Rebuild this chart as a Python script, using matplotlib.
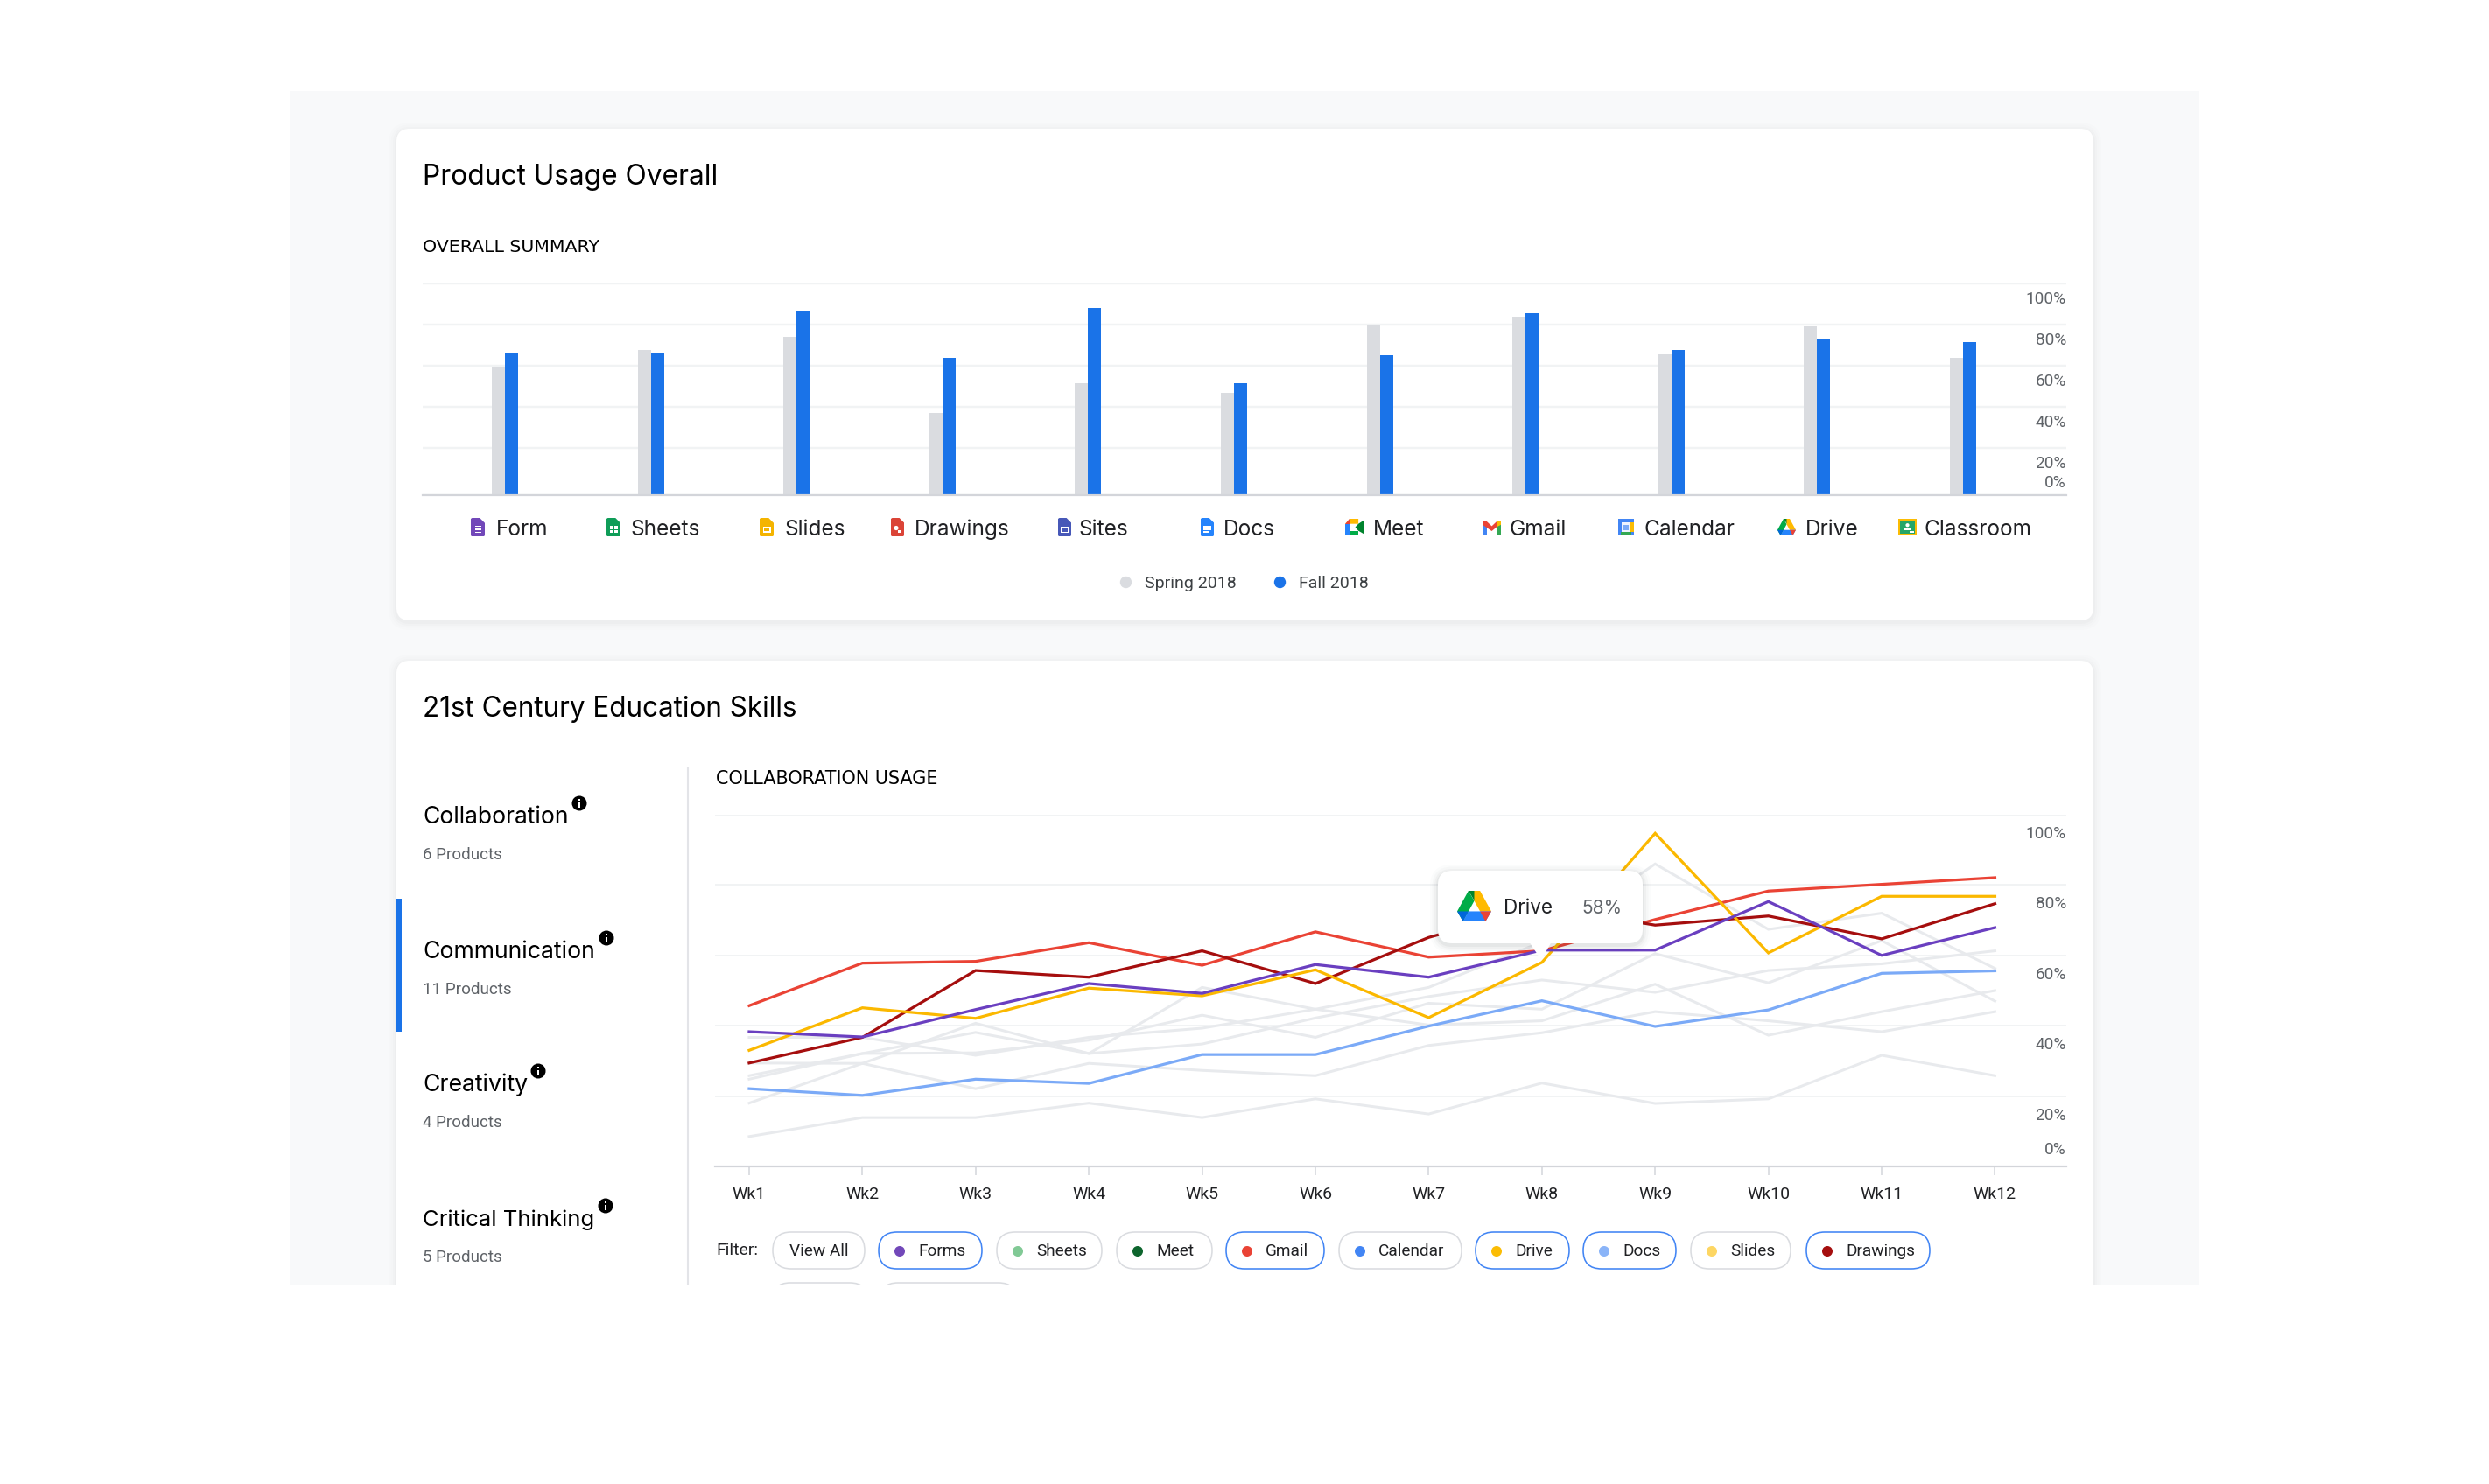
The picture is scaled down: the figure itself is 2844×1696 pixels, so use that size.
import numpy as np
import matplotlib
matplotlib.use("Agg")
import matplotlib.pyplot as plt
from matplotlib.patches import FancyBboxPatch, Polygon, Circle, Rectangle
from matplotlib.lines import Line2D
from matplotlib.transforms import ScaledTranslation

W, H = 2844, 1696
PT = 0.72

# ---------- data ----------
products = ["Form", "Sheets", "Slides", "Drawings", "Sites", "Docs", "Meet", "Gmail", "Calendar", "Drive", "Classroom"]
spring_2018 = [59.1, 67.7, 74.0, 37.0, 51.5, 46.8, 80.0, 83.8, 65.5, 79.1, 63.8]
fall_2018 = [66.4, 66.4, 86.4, 63.8, 88.1, 51.5, 65.1, 85.5, 67.7, 72.8, 71.5]
pct_ticks = [0, 20, 40, 60, 80, 100]
pct_labels = ["0%", "20%", "40%", "60%", "80%", "100%"]

weeks = ["Wk1", "Wk2", "Wk3", "Wk4", "Wk5", "Wk6", "Wk7", "Wk8", "Wk9", "Wk10", "Wk11", "Wk12"]
muted_a = [8.5, 13.9, 13.9, 18, 13.9, 19.2, 14.9, 23.7, 17.9, 19.2, 31.6, 25.8]
muted_b = [29.4, 29.3, 22.1, 29.3, 27.3, 25.8, 34.4, 38, 44, 41.4, 38.3, 44]
muted_c = [36.7, 36.7, 31.6, 36.7, 39.3, 44.7, 50.9, 63.8, 86, 67.4, 72, 56.3]
muted_d = [18, 29.3, 40.7, 32.1, 50.9, 44.7, 40.2, 41.4, 51.8, 37.3, 44, 50]
muted_e = [25.8, 32.1, 38.1, 32.1, 34.8, 42.2, 48.3, 53, 49.5, 55.7, 57.6, 61.3]
muted_f = [24.8, 32.1, 32.3, 35.9, 43, 36.7, 46.4, 44.7, 60.5, 52.2, 64.2, 47]
gmail = [45.7, 57.8, 58.3, 63.6, 57.2, 66.7, 59.5, 61.3, 70.2, 78.3, 80.2, 82.1]
drawings = [29.4, 36.7, 55.7, 53.8, 61.3, 52, 65.1, 74, 68.6, 71.2, 64.7, 74.7]
docs = [22.1, 20.2, 24.8, 23.6, 31.8, 31.8, 39.9, 47.1, 39.8, 44.5, 54.9, 55.6]
drive = [33, 45.1, 42.1, 50.7, 48.5, 55.9, 42.3, 58, 94.7, 60.7, 76.8, 76.8]
forms = [38.3, 36.8, 44.6, 52, 49.2, 57.4, 53.8, 61.5, 61.5, 75.3, 60, 67.9]

skills = ["Collaboration", "Communication", "Creativity", "Critical Thinking"]
skill_counts = ["6 Products", "11 Products", "4 Products", "5 Products"]
filters = ["View All", "Forms", "Sheets", "Meet", "Gmail", "Calendar", "Drive", "Docs", "Slides", "Drawings"]

# ---------- colours ----------
GRID = "#f1f3f4"
AXIS = "#d3d5da"
MUTED = "#e8eaed"
GREY_BAR = "#dadce0"
BLUE = "#1a73e8"
TXT2 = "#5f6368"
C_GMAIL, C_DRAW, C_DOCS, C_DRIVE, C_FORMS = "#ea4335", "#a50e0e", "#7baaf7", "#fbb800", "#6a3fc0"
SANS = "Roboto"
HEAD = "Inter"
BOTTOM = 1469

fig = plt.figure(figsize=(W / 100, H / 100), dpi=100, facecolor="white")


def px_axes(x0, y0, x1, y1, z):
    return fig.add_axes([x0 / W, 1 - y1 / H, (x1 - x0) / W, (y1 - y0) / H], zorder=z)


bg = px_axes(0, 0, W, H, 0)
fg = px_axes(0, 0, W, H, 5)
for a in (bg, fg):
    a.set_xlim(0, W)
    a.set_ylim(H, 0)
    a.axis("off")
    a.patch.set_alpha(0)


def rbox(a, x0, y0, x1, y1, r, fc="white", ec="none", lw=0, z=1, alpha=None):
    p = FancyBboxPatch((x0 + r, y0 + r), x1 - x0 - 2 * r, y1 - y0 - 2 * r,
                       boxstyle=f"round,pad={r},rounding_size={r}", fc=fc, ec=ec, lw=lw, zorder=z, alpha=alpha)
    a.add_patch(p)
    return p


def shadow(a, x0, y0, x1, y1, r, dy=2, z=1, k_scale=1.0, a_scale=1.0):
    for k, al in zip((9, 6.5, 4, 2), (0.006, 0.009, 0.014, 0.02)):
        k = k * k_scale
        rbox(a, x0 - k, y0 - k + dy, x1 + k, y1 + k + dy, r + k, fc="#3c4043", alpha=al * a_scale, z=z)


renderer = fig.canvas.get_renderer()


def T(x, y, s, px, a=fg, width=None, color="black", family=SANS, ha="left", weight="normal", z=10):
    t = a.text(x, y, s, fontsize=px * PT, color=color, family=family, ha=ha, va="center", weight=weight, zorder=z)
    if width is not None:
        w = t.get_window_extent(renderer).width
        t.set_fontsize(px * PT * width / w)
    return t


# ---------- page + cards ----------
bg.add_patch(Rectangle((331, 104), 2513 - 331, BOTTOM - 104, fc="#f8f9fa", ec="none", zorder=0))
shadow(bg, 453, 147, 2392, 709, 15)
rbox(bg, 453, 147, 2392, 709, 15)
shadow(bg, 453, 755, 2392, 1560, 15)
rbox(bg, 453, 755, 2392, 1560, 15)
bg.plot([786, 786], [878, 1560], color="#e3e4e8", lw=1.5, zorder=2)
bg.add_patch(Rectangle((453, 1027), 6, 152, fc=BLUE, ec="none", zorder=3))

T(483, 202, "Product Usage Overall", 34, width=337, family=HEAD)
T(483, 283, "OVERALL SUMMARY", 17, width=202, family="DejaVu Sans", weight="normal")
T(483, 811, "21st Century Education Skills", 34, width=428, family=HEAD)
T(818, 890, "COLLABORATION USAGE", 17, width=254, family="DejaVu Sans")

# ---------- chart 1 ----------
ax1 = px_axes(483, 324, 2361, 566, 2)
ax1.patch.set_alpha(0)
ax1.set_yscale("function", functions=(lambda v: np.interp(v, [0, 20, 100], [0, 54, 242]),
                                      lambda p: np.interp(p, [0, 54, 242], [0, 20, 100])))
idx = np.arange(len(products))
bw = 0.09
ax1.bar(idx - bw / 2, spring_2018, width=bw, color=GREY_BAR, zorder=3, label="Spring 2018")
ax1.bar(idx + bw / 2, fall_2018, width=bw, color=BLUE, zorder=3, label="Fall 2018")
ax1.set_xlim(-0.564, 10.708)
ax1.set_ylim(0, 100)


def style_y(ax, offsets, glw):
    ax.set_yticks(pct_ticks)
    ax.set_yticklabels(pct_labels)
    ax.yaxis.tick_right()
    ax.tick_params(axis="y", length=0, pad=0, labelcolor=TXT2, labelsize=19 * PT)
    for lab, off in zip(ax.get_yticklabels(), offsets):
        lab.set_ha("right")
        lab.set_va("center")
        lab.set_family(SANS)
        lab.set_transform(lab.get_transform() + ScaledTranslation(0, off * PT / 72, fig.dpi_scale_trans))
    ax.grid(axis="y", color=GRID, lw=glw, zorder=0)
    ax.set_axisbelow(True)
    for s in ("top", "left", "right"):
        ax.spines[s].set_visible(False)
    ax.spines["bottom"].set_color(AXIS)
    ax.spines["bottom"].set_linewidth(2.2 * PT)


style_y(ax1, [14, -18, -18, -18, -18, -18], 2.4 * PT)
ax1.set_xticks(idx)
ax1.tick_params(axis="x", length=0, labelbottom=False)
ax1.spines["bottom"].set_zorder(4)

leg = ax1.legend(handles=[Line2D([], [], ls="", marker="o", ms=12 * PT, color=GREY_BAR, label="Spring 2018"),
                          Line2D([], [], ls="", marker="o", ms=12 * PT, color=BLUE, label="Fall 2018")],
                 loc="center", bbox_to_anchor=(1420 / W, 1 - 667 / H), bbox_transform=fig.transFigure, ncol=2,
                 frameon=False, handlelength=1, handletextpad=0.62, columnspacing=2.03,
                 prop={"family": SANS, "size": 19.5 * PT})
for t in leg.get_texts():
    t.set_color("#3c4043")

# ---------- chart 2 ----------
ax2 = px_axes(817, 931, 2361, 1333, 2)
ax2.patch.set_alpha(0)
x = np.arange(len(weeks))
for series in (muted_a, muted_b, muted_c, muted_d, muted_e, muted_f):
    ax2.plot(x, series, color=MUTED, lw=3 * PT, zorder=2, solid_joinstyle="miter", clip_on=False)
for series, c, name in ((gmail, C_GMAIL, "Gmail"), (drawings, C_DRAW, "Drawings"), (docs, C_DOCS, "Docs"),
                        (drive, C_DRIVE, "Drive"), (forms, C_FORMS, "Forms")):
    ax2.plot(x, series, color=c, lw=3.2 * PT, zorder=3, label=name, solid_joinstyle="miter")
ax2.set_xlim(-0.301, 11.63)
ax2.set_ylim(0, 100)
style_y(ax2, [19, -22, -22, -22, -22, -22], 2 * PT)
ax2.set_xticks(x)
ax2.set_xticklabels(weeks, family=SANS, fontsize=19.5 * PT, color="#202124")
ax2.tick_params(axis="x", length=10 * PT, width=1.5 * PT, color=AXIS, pad=13 * PT)

# ---------- left rail ----------
skill_y = [934, 1088, 1240, 1394]
skill_w = [166, 197, 120, 196]
info_xy = [(662, 918), (693, 1072), (615, 1224), (692, 1378)]
count_y = [977, 1131, 1283, 1437]
count_w = [91, 102, 91, 91]
for s, yy, w, (ix, iy), c, cy, cw in zip(skills, skill_y, skill_w, info_xy, skill_counts, count_y, count_w):
    T(483, yy, s, 28, width=w, family=HEAD)
    T(483, cy, c, 18, width=cw, color=TXT2, family=SANS)
    fg.add_patch(Circle((ix, iy), 8.5, fc="black", ec="none", zorder=9))
    fg.add_patch(Rectangle((ix - 1.2, iy - 1.5), 2.4, 6, fc="white", ec="none", zorder=10))
    fg.add_patch(Rectangle((ix - 1.2, iy - 5), 2.4, 2.2, fc="white", ec="none", zorder=10))

# ---------- filter chips ----------
T(818, 1429, "Filter:", 17, width=48, color="#202124")
chip_x0 = [883, 1004, 1139, 1276, 1401, 1530, 1686, 1809, 1932, 2064]
chip_x1 = [988, 1122, 1259, 1385, 1513, 1670, 1793, 1915, 2046, 2205]
chip_col = [None, "#7248b9", "#81c995", "#0d652d", "#ea4335", "#4285f4", "#fbbc04", "#8ab4f8", "#fdd663", "#a50e0e"]
chip_sel = [False, True, False, False, True, False, True, True, False, True]
for name, a0, a1, col, sel in zip(filters, chip_x0, chip_x1, chip_col, chip_sel):
    rbox(fg, a0, 1408, a1, 1450, 21, fc="white", ec="#4285f4" if sel else "#dadce0", lw=1.6 * PT, z=6)
    if col is None:
        T((a0 + a1) / 2, 1430, name, 19, ha="center", color="#202124")
    else:
        fg.add_patch(Circle((a0 + 24, 1430), 6, fc=col, ec="none", zorder=7))
        T(a0 + 45, 1430, name, 19, color="#202124")
# second row of chips, cut by the page edge
rbox(fg, 882, 1466, 992, 1508, 21, fc="white", ec="#dadce0", lw=1.6 * PT, z=6)
rbox(fg, 1005, 1466, 1162, 1508, 21, fc="white", ec="#dadce0", lw=1.6 * PT, z=6)
fg.add_patch(Rectangle((0, BOTTOM), W, H - BOTTOM, fc="white", ec="none", zorder=20))


# ---------- icons ----------
def doc_icon(x0, y0, x1, y1, col, mark=None):
    w, h = x1 - x0, y1 - y0
    f = w * 0.36
    fg.add_patch(Polygon([(x0 + 1.5, y0), (x1 - f, y0), (x1, y0 + f), (x1, y1 - 1), (x1 - 1, y1), (x0 + 1, y1), (x0, y1 - 1),
                          (x0, y0 + 1)], closed=True, fc=col, ec="none", zorder=9))
    cx, cy = (x0 + x1) / 2, y0 + h * 0.62
    if mark == "lines":
        for d in (-3.5, 0, 3.5):
            fg.add_patch(Rectangle((cx - w * 0.2, cy + d - 0.8), w * 0.45, 1.6, fc="white", ec="none", zorder=10))
    elif mark == "grid":
        fg.add_patch(Rectangle((cx - 4.5, cy - 4), 9, 8, fc="white", ec="none", zorder=10))
        fg.add_patch(Rectangle((cx - 0.5, cy - 4), 1, 8, fc=col, ec="none", zorder=11))
        fg.add_patch(Rectangle((cx - 4.5, cy - 0.5), 9, 1, fc=col, ec="none", zorder=11))
    elif mark == "slide":
        fg.add_patch(Rectangle((cx - 4.5, cy - 3.5), 9, 7, fc="white", ec="none", zorder=10))
        fg.add_patch(Rectangle((cx - 3, cy - 2), 6, 4, fc=col, ec="none", zorder=11))
    elif mark == "draw":
        fg.add_patch(Circle((cx - 1.5, cy - 1.5), 2.6, fc="white", ec="none", zorder=10))
        fg.add_patch(Rectangle((cx, cy + 0.5), 3.6, 3.6, fc="white", ec="none", zorder=10))
    elif mark == "site":
        fg.add_patch(Rectangle((cx - 4.5, cy - 3.5), 9, 7.5, fc="white", ec="none", zorder=10))
        fg.add_patch(Rectangle((cx - 3, cy - 0.8), 6, 3.4, fc=col, ec="none", zorder=11))
    elif mark == "doc":
        for d, l in ((-3, 0.55), (0, 0.55), (3, 0.35)):
            fg.add_patch(Rectangle((cx - w * 0.28, cy + d - 0.8), w * l, 1.6, fc="white", ec="none", zorder=10))


def drive_icon(x0, y0, x1, y1):
    w, h = x1 - x0, y1 - y0
    P = lambda pts: [(x0 + a * w, y0 + b * h) for a, b in pts]
    shapes = [([(0.33, 0), (0.5, 0.33), (0.17, 1), (0, 0.67)], "#00ac47"),
              ([(0.33, 0), (0.5, 0), (0.5, 0.33)], "#00832d"),
              ([(0.5, 0), (0.67, 0), (1, 0.67), (0.67, 0.67), (0.5, 0.33)], "#ffba00"),
              ([(0.33, 0.67), (1, 0.67), (0.83, 1), (0.17, 1)], "#2684fc"),
              ([(0, 0.67), (0.33, 0.67), (0.17, 1)], "#0066da"),
              ([(0.67, 0.67), (1, 0.67), (0.83, 1)], "#ea4335")]
    for pts, c in shapes:
        fg.add_patch(Polygon(P(pts), closed=True, fc=c, ec="none", zorder=12))


def meet_icon(x0, y0, x1, y1):
    w, h = x1 - x0, y1 - y0
    fg.add_patch(Rectangle((x0, y0 + h * .3), w * .25, h * .45, fc="#2684fc", ec="none", zorder=9))
    fg.add_patch(Polygon([(x0, y0 + h * .3), (x0 + w * .25, y0), (x0 + w * .72, y0), (x0 + w * .72, y0 + h * .3)],
                         closed=True, fc="#ffba00", ec="none", zorder=9))
    fg.add_patch(Polygon([(x0 + w * .25, y0), (x0 + w * .25, y0 + h * .3), (x0, y0 + h * .3)], closed=True, fc="#ea4335",
                         ec="none", zorder=10))
    fg.add_patch(Rectangle((x0, y0 + h * .72), w * .72, h * .28, fc="#2684fc", ec="none", zorder=9))
    fg.add_patch(Rectangle((x0 + w * .3, y0 + h * .72), w * .42, h * .28, fc="#00ac47", ec="none", zorder=10))
    fg.add_patch(Rectangle((x0 + w * .25, y0 + h * .3), w * .47, h * .42, fc="white", ec="none", zorder=10))
    fg.add_patch(Polygon([(x0 + w * .55, y0 + h * .5), (x0 + w * .72, y0 + h * .3), (x1, y0 + h * .1), (x1, y0 + h * .9),
                          (x0 + w * .72, y0 + h * .72)], closed=True, fc="#00832d", ec="none", zorder=11))


def gmail_icon(x0, y0, x1, y1):
    w, h = x1 - x0, y1 - y0
    fg.add_patch(Rectangle((x0, y0 + h * .15), w * .22, h * .85, fc="#4285f4", ec="none", zorder=9))
    fg.add_patch(Rectangle((x1 - w * .22, y0 + h * .15), w * .22, h * .85, fc="#34a853", ec="none", zorder=9))
    fg.add_patch(Polygon([(x1 - w * .22, y0 + h * .05), (x1, y0), (x1, y0 + h * .3), (x1 - w * .22, y0 + h * .45)],
                         closed=True, fc="#fbbc04", ec="none", zorder=11))
    fg.add_patch(Polygon([(x0, y0), (x0 + w * .22, y0 + h * .05), (x0 + w * .5, y0 + h * .4), (x1 - w * .22, y0 + h * .05),
                          (x1 - w * .22, y0 + h * .45), (x0 + w * .5, y0 + h * .75), (x0, y0 + h * .3)],
                         closed=True, fc="#ea4335", ec="none", zorder=10))


def calendar_icon(x0, y0, x1, y1):
    w, h = x1 - x0, y1 - y0
    fg.add_patch(Rectangle((x0, y0), w, h, fc="#4285f4", ec="none", zorder=9))
    fg.add_patch(Rectangle((x0 + w * .15, y1 - h * .2), w * .7, h * .2, fc="#34a853", ec="none", zorder=10))
    fg.add_patch(Rectangle((x1 - w * .2, y0 + h * .2), w * .2, h * .6, fc="#fbbc04", ec="none", zorder=10))
    fg.add_patch(Rectangle((x0 + w * .2, y0 + h * .22), w * .6, h * .58, fc="#eef3fe", ec="none", zorder=11))
    fg.add_patch(Rectangle((x0 + w * .32, y0 + h * .36), w * .36, h * .3, fc="#7baaf7", ec="none", zorder=12))


def classroom_icon(x0, y0, x1, y1):
    w, h = x1 - x0, y1 - y0
    fg.add_patch(Rectangle((x0, y0), w, h, fc="#fbbc04", ec="none", zorder=9))
    fg.add_patch(Rectangle((x0 + w * .1, y0 + h * .1), w * .8, h * .8, fc="#25a667", ec="none", zorder=10))
    fg.add_patch(Circle((x0 + w * .5, y0 + h * .38), w * .1, fc="white", ec="none", zorder=11))
    fg.add_patch(Rectangle((x0 + w * .3, y0 + h * .55), w * .4, h * .13, fc="white", ec="none", zorder=11))
    fg.add_patch(Rectangle((x0 + w * .62, y0 + h * .76), w * .22, h * .06, fc="white", ec="none", zorder=11))


LABEL_Y = 605
label_x = [567, 721, 896, 1045, 1232, 1398, 1569, 1724, 1878, 2063, 2199]
for p, a0 in zip(products, label_x):
    T(a0, LABEL_Y, p, 24.4, family=HEAD, color="#202124")
doc_icon(538, 592, 554, 613, "#7248b9", "lines")
doc_icon(693, 592, 709, 613, "#0f9d58", "grid")
doc_icon(868, 592, 884, 613, "#f4b400", "slide")
doc_icon(1018, 592, 1033, 613, "#db4437", "draw")
doc_icon(1209, 592, 1224, 613, "#4758b8", "site")
doc_icon(1372, 592, 1387, 613, "#2684fc", "doc")
meet_icon(1537, 593, 1558, 612)
gmail_icon(1694, 595, 1715, 611)
calendar_icon(1849, 593, 1867, 612)
drive_icon(2031, 593, 2052, 612)
classroom_icon(2169, 593, 2190, 612)

# ---------- tooltip ----------
shadow(fg, 1643, 995, 1877, 1078, 16, z=7, a_scale=2.5)
rbox(fg, 1643, 995, 1877, 1078, 16, z=8)
fg.add_patch(Polygon([(1747, 1076), (1773, 1076), (1761, 1097)], closed=True, fc="white", ec="none", zorder=8))
drive_icon(1665, 1018, 1704, 1053)
T(1718, 1038, "Drive", 26, width=56, color="#202124", z=13, family=HEAD)
T(1807, 1038, "58%", 26, width=46, color=TXT2, z=13, family=HEAD)

fig.savefig("out.png", dpi=100, facecolor="white")
